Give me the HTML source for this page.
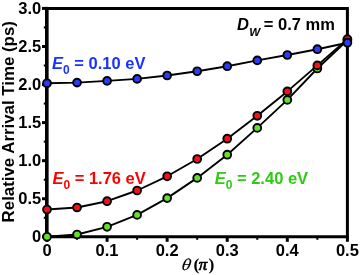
<!DOCTYPE html>
<html><head><meta charset="utf-8"><style>
html,body{margin:0;padding:0;background:#fff;width:360px;height:275px;overflow:hidden}
svg{display:block}
.tk{font-family:"Liberation Sans",Arial,sans-serif;font-weight:bold;font-size:16.5px;fill:#000}
.ttl{font-family:"Liberation Sans",Arial,sans-serif;font-weight:bold;font-size:16.85px;fill:#000}
.xt{font-family:"Liberation Serif","Times New Roman",serif;font-size:17px;fill:#000}
.an{font-family:"Liberation Sans",Arial,sans-serif;font-weight:bold;font-size:16.5px}
.sub{font-weight:bold;font-size:12px}
.subw{font-weight:bold;font-style:italic;font-size:11.6px}
</style></head><body>
<svg width="360" height="275" viewBox="0 0 360 275">
<path d="M46.75,238.30 V8.41 H347.40 V236.80 H47.00" fill="none" stroke="#000" stroke-width="3"/>
<line x1="46.75" y1="6.91" x2="46.75" y2="238.30" stroke="#000" stroke-width="3.5"/>
<line x1="42.00" y1="236.80" x2="47.00" y2="236.80" stroke="#000" stroke-width="3"/>
<line x1="43.80" y1="217.77" x2="47.00" y2="217.77" stroke="#000" stroke-width="2"/>
<text x="41.3" y="242.00" text-anchor="end" class="tk">0</text>
<line x1="42.00" y1="198.74" x2="47.00" y2="198.74" stroke="#000" stroke-width="3"/>
<line x1="43.80" y1="179.70" x2="47.00" y2="179.70" stroke="#000" stroke-width="2"/>
<text x="41.3" y="203.94" text-anchor="end" class="tk">0.5</text>
<line x1="42.00" y1="160.67" x2="47.00" y2="160.67" stroke="#000" stroke-width="3"/>
<line x1="43.80" y1="141.64" x2="47.00" y2="141.64" stroke="#000" stroke-width="2"/>
<text x="41.3" y="165.87" text-anchor="end" class="tk">1.0</text>
<line x1="42.00" y1="122.61" x2="47.00" y2="122.61" stroke="#000" stroke-width="3"/>
<line x1="43.80" y1="103.57" x2="47.00" y2="103.57" stroke="#000" stroke-width="2"/>
<text x="41.3" y="127.81" text-anchor="end" class="tk">1.5</text>
<line x1="42.00" y1="84.54" x2="47.00" y2="84.54" stroke="#000" stroke-width="3"/>
<line x1="43.80" y1="65.51" x2="47.00" y2="65.51" stroke="#000" stroke-width="2"/>
<text x="41.3" y="89.74" text-anchor="end" class="tk">2.0</text>
<line x1="42.00" y1="46.48" x2="47.00" y2="46.48" stroke="#000" stroke-width="3"/>
<line x1="43.80" y1="27.44" x2="47.00" y2="27.44" stroke="#000" stroke-width="2"/>
<text x="41.3" y="51.68" text-anchor="end" class="tk">2.5</text>
<line x1="42.00" y1="8.41" x2="47.00" y2="8.41" stroke="#000" stroke-width="3"/>
<text x="41.3" y="13.61" text-anchor="end" class="tk">3.0</text>
<line x1="47.00" y1="236.80" x2="47.00" y2="241.80" stroke="#000" stroke-width="3"/>
<line x1="77.04" y1="236.80" x2="77.04" y2="239.80" stroke="#000" stroke-width="2"/>
<text x="47.00" y="256.1" text-anchor="middle" class="tk">0</text>
<line x1="107.08" y1="236.80" x2="107.08" y2="241.80" stroke="#000" stroke-width="3"/>
<line x1="137.12" y1="236.80" x2="137.12" y2="239.80" stroke="#000" stroke-width="2"/>
<text x="107.08" y="256.1" text-anchor="middle" class="tk">0.1</text>
<line x1="167.16" y1="236.80" x2="167.16" y2="241.80" stroke="#000" stroke-width="3"/>
<line x1="197.20" y1="236.80" x2="197.20" y2="239.80" stroke="#000" stroke-width="2"/>
<text x="167.16" y="256.1" text-anchor="middle" class="tk">0.2</text>
<line x1="227.24" y1="236.80" x2="227.24" y2="241.80" stroke="#000" stroke-width="3"/>
<line x1="257.28" y1="236.80" x2="257.28" y2="239.80" stroke="#000" stroke-width="2"/>
<text x="227.24" y="256.1" text-anchor="middle" class="tk">0.3</text>
<line x1="287.32" y1="236.80" x2="287.32" y2="241.80" stroke="#000" stroke-width="3"/>
<line x1="317.36" y1="236.80" x2="317.36" y2="239.80" stroke="#000" stroke-width="2"/>
<text x="287.32" y="256.1" text-anchor="middle" class="tk">0.4</text>
<line x1="347.40" y1="236.80" x2="347.40" y2="241.80" stroke="#000" stroke-width="3"/>
<text x="347.40" y="256.1" text-anchor="middle" class="tk">0.5</text>
<polyline points="47.00,236.80 77.04,234.50 107.08,226.80 137.12,214.90 167.16,198.10 197.20,177.90 227.24,154.70 257.28,127.90 287.32,99.90 317.36,68.50 347.40,40.30" fill="none" stroke="#000" stroke-width="1.9" stroke-linejoin="round"/>

<polyline points="47.00,209.50 77.04,207.50 107.08,201.20 137.12,190.50 167.16,176.30 197.20,159.00 227.24,138.70 257.28,115.80 287.32,91.40 317.36,65.40 347.40,39.10" fill="none" stroke="#000" stroke-width="1.9" stroke-linejoin="round"/>

<polyline points="47.00,83.30 77.04,82.60 107.08,80.90 137.12,78.90 167.16,75.50 197.20,71.25 227.24,66.20 257.28,60.40 287.32,55.00 317.36,49.20 347.40,42.70" fill="none" stroke="#000" stroke-width="1.9" stroke-linejoin="round"/>

<circle cx="47.00" cy="236.80" r="3.9" fill="#62e02a" stroke="#000" stroke-width="1.9"/><circle cx="77.04" cy="234.50" r="3.9" fill="#62e02a" stroke="#000" stroke-width="1.9"/><circle cx="107.08" cy="226.80" r="3.9" fill="#62e02a" stroke="#000" stroke-width="1.9"/><circle cx="137.12" cy="214.90" r="3.9" fill="#62e02a" stroke="#000" stroke-width="1.9"/><circle cx="167.16" cy="198.10" r="3.9" fill="#62e02a" stroke="#000" stroke-width="1.9"/><circle cx="197.20" cy="177.90" r="3.9" fill="#62e02a" stroke="#000" stroke-width="1.9"/><circle cx="227.24" cy="154.70" r="3.9" fill="#62e02a" stroke="#000" stroke-width="1.9"/><circle cx="257.28" cy="127.90" r="3.9" fill="#62e02a" stroke="#000" stroke-width="1.9"/><circle cx="287.32" cy="99.90" r="3.9" fill="#62e02a" stroke="#000" stroke-width="1.9"/><circle cx="317.36" cy="68.50" r="3.9" fill="#62e02a" stroke="#000" stroke-width="1.9"/><circle cx="347.40" cy="40.30" r="3.9" fill="#62e02a" stroke="#000" stroke-width="1.9"/>

<circle cx="47.00" cy="209.50" r="3.9" fill="#f5101a" stroke="#000" stroke-width="1.9"/><circle cx="77.04" cy="207.50" r="3.9" fill="#f5101a" stroke="#000" stroke-width="1.9"/><circle cx="107.08" cy="201.20" r="3.9" fill="#f5101a" stroke="#000" stroke-width="1.9"/><circle cx="137.12" cy="190.50" r="3.9" fill="#f5101a" stroke="#000" stroke-width="1.9"/><circle cx="167.16" cy="176.30" r="3.9" fill="#f5101a" stroke="#000" stroke-width="1.9"/><circle cx="197.20" cy="159.00" r="3.9" fill="#f5101a" stroke="#000" stroke-width="1.9"/><circle cx="227.24" cy="138.70" r="3.9" fill="#f5101a" stroke="#000" stroke-width="1.9"/><circle cx="257.28" cy="115.80" r="3.9" fill="#f5101a" stroke="#000" stroke-width="1.9"/><circle cx="287.32" cy="91.40" r="3.9" fill="#f5101a" stroke="#000" stroke-width="1.9"/><circle cx="317.36" cy="65.40" r="3.9" fill="#f5101a" stroke="#000" stroke-width="1.9"/><circle cx="347.40" cy="39.10" r="3.9" fill="#f5101a" stroke="#000" stroke-width="1.9"/>

<circle cx="47.00" cy="83.30" r="3.9" fill="#2a3cf5" stroke="#000" stroke-width="1.9"/><circle cx="77.04" cy="82.60" r="3.9" fill="#2a3cf5" stroke="#000" stroke-width="1.9"/><circle cx="107.08" cy="80.90" r="3.9" fill="#2a3cf5" stroke="#000" stroke-width="1.9"/><circle cx="137.12" cy="78.90" r="3.9" fill="#2a3cf5" stroke="#000" stroke-width="1.9"/><circle cx="167.16" cy="75.50" r="3.9" fill="#2a3cf5" stroke="#000" stroke-width="1.9"/><circle cx="197.20" cy="71.25" r="3.9" fill="#2a3cf5" stroke="#000" stroke-width="1.9"/><circle cx="227.24" cy="66.20" r="3.9" fill="#2a3cf5" stroke="#000" stroke-width="1.9"/><circle cx="257.28" cy="60.40" r="3.9" fill="#2a3cf5" stroke="#000" stroke-width="1.9"/><circle cx="287.32" cy="55.00" r="3.9" fill="#2a3cf5" stroke="#000" stroke-width="1.9"/><circle cx="317.36" cy="49.20" r="3.9" fill="#2a3cf5" stroke="#000" stroke-width="1.9"/><circle cx="347.40" cy="42.70" r="3.9" fill="#2a3cf5" stroke="#000" stroke-width="1.9"/>

<text transform="translate(13.7,222.4) rotate(-90)" class="ttl">Relative Arrival Time (ps)</text>
<text transform="translate(181.0,269.7) skewX(-9) scale(1.12,0.97)" class="xt" font-style="italic" stroke="#000" stroke-width="0.12">θ</text>
<text x="193.6" y="269.7" class="xt" font-weight="bold" style="font-size:17.6px">(</text>
<text x="198.8" y="269.7" class="xt" font-style="italic" stroke="#000" stroke-width="0.7">π</text>
<text x="208.4" y="269.7" class="xt" font-weight="bold" style="font-size:17.6px">)</text>
<text x="52.0" y="68.6" class="an" fill="#1a32ff"><tspan font-style="italic">E</tspan><tspan class="sub" dy="5.1">0</tspan><tspan dy="-5.1"> = 0.10 eV</tspan></text>
<text x="52.4" y="183.6" class="an" fill="#ff0000"><tspan font-style="italic">E</tspan><tspan class="sub" dy="5.1">0</tspan><tspan dy="-5.1"> = 1.76 eV</tspan></text>
<text x="214.7" y="184.3" class="an" fill="#2ccc10"><tspan font-style="italic">E</tspan><tspan class="sub" dy="5.1">0</tspan><tspan dy="-5.1"> = 2.40 eV</tspan></text>
<text x="237.0" y="29.8" class="an" fill="#000"><tspan font-style="italic">D</tspan><tspan class="subw" dy="6.3" dx="0.3">W</tspan><tspan dy="-6.3" dx="-0.9"> = 0.7 mm</tspan></text>
</svg>
</body></html>
